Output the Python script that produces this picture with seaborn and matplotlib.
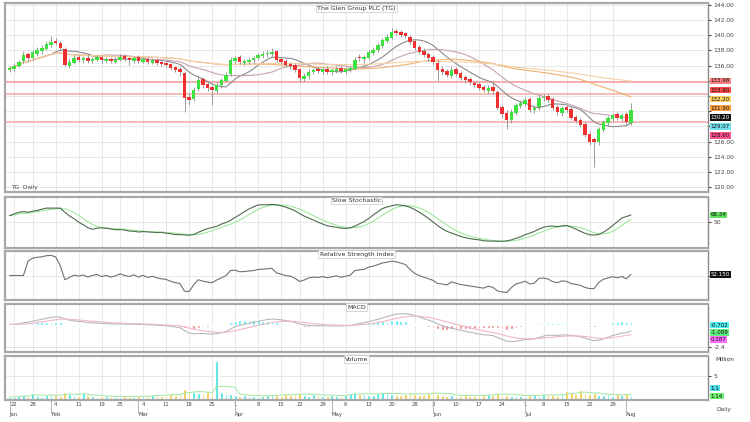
import numpy as np
import pandas as pd
import seaborn as sns
import matplotlib
matplotlib.use("Agg")
import matplotlib.pyplot as plt

sns.set_style("white")
plt.rcParams['font.family'] = ['DejaVu Sans']

title = "The Glen Group PLC (TG)"
holidays = ["2019-01-21", "2019-02-18", "2019-04-19", "2019-05-27", "2019-07-04"]

opens = [135.4, 135.6, 136.0, 136.6, 137.5, 137.0, 137.6, 137.9, 138.2, 138.7,
         139.3, 139.0, 138.2, 136.0, 136.4, 137.1, 136.7, 137.0, 136.6, 136.8,
         137.1, 136.6, 136.9, 136.5, 136.8, 137.3, 137.0, 136.6, 137.1, 136.5,
         136.9, 136.4, 136.8, 136.5, 136.3, 136.2, 135.8, 135.5, 135.0, 131.9,
         131.6, 132.9, 134.2, 133.6, 133.2, 132.7, 133.4, 134.0, 134.9, 136.6,
         137.1, 136.4, 136.5, 136.7, 137.0, 137.3, 137.5, 137.6, 137.9, 136.9,
         136.6, 136.2, 136.1, 135.5, 134.3, 134.6, 135.1, 135.5, 135.2, 135.6,
         135.1, 135.3, 135.7, 135.2, 135.4, 135.6, 137.2, 136.9, 137.0, 137.7,
         138.0, 138.6, 139.3, 139.7, 140.6, 140.4, 140.3, 139.8, 139.2, 138.4,
         137.9, 137.5, 137.1, 136.4, 135.6, 135.3, 134.7, 135.5, 135.0, 134.5,
         134.2, 133.7, 133.6, 133.2, 132.7, 133.2, 132.5, 130.5, 129.8, 128.8,
         129.8, 130.7, 131.0, 131.6, 130.1, 130.5, 131.7, 132.0, 131.6, 130.5,
         129.8, 130.5, 130.3, 129.2, 128.8, 128.3, 127.0, 126.3, 125.9, 127.5,
         128.5, 129.0, 129.6, 129.0, 129.6, 128.5]
closes = [135.7, 136.0, 136.5, 137.4, 137.0, 137.8, 138.1, 138.3, 138.9, 139.1,
          139.0, 138.3, 136.1, 136.5, 137.0, 136.8, 137.0, 136.6, 136.9, 137.1,
          136.7, 136.9, 136.6, 136.8, 137.2, 136.9, 136.7, 137.0, 136.6, 136.9,
          136.5, 136.7, 136.4, 136.2, 136.1, 135.7, 135.4, 135.2, 131.8, 131.5,
          132.8, 134.1, 133.5, 133.1, 132.8, 133.5, 134.1, 134.8, 136.8, 137.0,
          136.5, 136.6, 136.8, 137.0, 137.4, 137.5, 137.7, 137.8, 136.8, 136.5,
          136.1, 136.0, 135.4, 134.4, 134.7, 135.2, 135.4, 135.3, 135.5, 135.2,
          135.4, 135.6, 135.3, 135.5, 135.7, 136.8, 137.0, 137.1, 137.8, 138.1,
          138.7, 139.4, 139.8, 140.4, 140.3, 140.1, 139.9, 139.1, 138.3, 137.8,
          137.4, 137.0, 136.5, 135.4, 135.2, 134.8, 135.4, 134.9, 134.4, 134.1,
          133.8, 133.5, 133.1, 132.8, 133.1, 132.6, 130.4, 129.6, 128.9, 129.9,
          130.8, 131.1, 131.5, 130.2, 130.4, 131.8, 131.9, 131.5, 130.4, 129.9,
          130.4, 130.2, 129.1, 128.7, 128.2, 126.9, 126.0, 126.0, 127.6, 128.6,
          129.1, 129.5, 129.1, 129.5, 128.6, 130.2]
highs = [136.0, 136.3, 136.8, 137.9, 137.8, 138.1, 138.4, 138.7, 139.2, 139.9,
         139.6, 139.2, 138.4, 136.9, 137.4, 137.4, 137.3, 137.6, 137.2, 137.4,
         137.3, 137.2, 137.1, 137.1, 137.6, 137.5, 137.2, 137.3, 137.4, 137.2,
         137.1, 137.0, 137.0, 136.8, 136.6, 136.4, 136.0, 135.8, 135.3, 132.4,
         133.2, 134.6, 134.5, 133.9, 133.5, 133.8, 134.4, 135.2, 137.1, 137.3,
         137.4, 136.9, 137.1, 137.3, 137.7, 137.9, 138.0, 138.3, 138.1, 137.2,
         136.9, 136.5, 136.3, 135.7, 135.0, 135.5, 135.7, 135.8, 135.8, 135.9,
         135.7, 135.9, 136.0, 135.8, 136.0, 137.1, 137.5, 137.4, 138.1, 138.4,
         139.0, 139.7, 140.2, 141.0, 140.9, 140.7, 140.5, 140.0, 139.4, 138.7,
         138.3, 137.8, 137.4, 136.7, 135.9, 135.6, 135.9, 135.8, 135.3, 134.8,
         134.5, 134.0, 133.9, 133.5, 133.5, 133.9, 132.8, 130.8, 130.1, 130.3,
         131.1, 131.5, 131.9, 131.9, 130.8, 132.1, 132.2, 132.3, 131.9, 130.8,
         130.7, 130.8, 130.6, 129.5, 129.1, 128.6, 127.3, 126.6, 127.9, 128.9,
         129.4, 129.8, 129.9, 129.8, 129.9, 131.1]
lows = [135.1, 135.3, 135.8, 136.4, 136.6, 136.8, 137.3, 137.6, 138.0, 138.5,
        138.7, 138.0, 135.9, 135.7, 136.2, 136.5, 136.4, 136.3, 136.4, 136.6,
        136.4, 136.3, 136.3, 136.3, 136.6, 136.6, 136.1, 136.4, 136.3, 136.3,
        136.2, 136.2, 136.1, 135.9, 135.8, 135.4, 135.1, 134.6, 129.9, 130.8,
        131.3, 132.6, 133.1, 132.7, 130.8, 132.4, 133.1, 133.8, 134.7, 136.3,
        136.2, 136.1, 136.2, 136.4, 136.8, 137.0, 137.2, 137.3, 136.5, 136.2,
        135.8, 135.6, 135.1, 133.8, 134.0, 134.3, 134.9, 135.0, 134.9, 134.9,
        134.8, 135.0, 135.0, 134.9, 135.1, 135.4, 136.6, 136.4, 136.8, 137.4,
        137.8, 138.3, 139.0, 139.5, 140.0, 139.8, 139.6, 138.8, 138.0, 137.5,
        137.1, 136.6, 136.1, 134.0, 134.8, 134.5, 134.4, 134.6, 134.1, 133.7,
        133.5, 133.2, 132.8, 132.5, 132.4, 132.3, 130.1, 129.2, 127.6, 128.5,
        129.5, 130.4, 130.7, 129.9, 129.8, 130.2, 131.4, 131.2, 130.1, 129.5,
        129.4, 129.9, 128.8, 128.4, 127.9, 126.6, 125.6, 122.6, 125.6, 127.2,
        128.2, 128.7, 128.8, 128.7, 128.3, 128.2]
volume = [0.6, 0.7, 0.9, 1.1, 0.8, 1.4, 0.9, 0.7, 1.0, 1.2,
          1.0, 0.9, 1.6, 1.3, 1.1, 0.9, 1.5, 1.0, 0.8, 0.7,
          0.9, 0.8, 0.6, 0.7, 0.6, 0.8, 0.7, 0.6, 0.9, 0.8,
          0.7, 1.0, 1.3, 0.9, 1.1, 1.2, 1.0, 1.4, 2.2, 1.9,
          1.6, 1.5, 1.3, 1.7, 1.4, 8.0, 1.6, 1.2, 1.3, 1.0,
          0.9, 1.1, 0.8, 0.9, 0.7, 0.8, 1.0, 1.2, 1.1, 0.9,
          1.3, 1.0, 1.2, 1.5, 1.1, 0.9, 1.3, 1.0, 0.8, 0.9,
          1.1, 0.8, 0.9, 1.0, 1.4, 1.6, 1.3, 1.2, 1.0, 1.1,
          1.5, 1.7, 1.4, 1.2, 1.0, 1.1, 1.3, 1.6, 1.2, 1.0,
          1.1, 1.4, 2.1, 1.3, 1.0, 0.9, 1.1, 0.8, 0.9, 1.0,
          0.9, 0.8, 1.0, 1.1, 1.2, 1.0, 1.5, 1.3, 1.1, 0.9,
          1.0, 0.8, 0.9, 1.1, 1.0, 0.9, 1.2, 1.0, 1.1, 0.8,
          1.3, 1.9, 1.6, 1.2, 2.0, 1.4, 1.2, 1.5, 1.1, 1.0,
          1.2, 0.9, 1.3, 1.0, 1.4, 1.1]
levels = [133.9, 132.2, 128.6]
price_ticks = [120, 122, 124, 126, 128, 130, 132, 134, 136, 138, 140, 142, 144]

dates = pd.bdate_range("2019-01-18", periods=len(closes), freq="C", holidays=holidays)
df = pd.DataFrame({"date": dates, "open": opens, "high": highs, "low": lows,
                   "close": closes, "volume": volume})
df["i"] = np.arange(len(df))
df["up"] = df["close"] >= df["open"]

# indicators
for n in [10, 20, 50, 100]:
    df[f"ma{n}"] = df["close"].rolling(n, min_periods=1).mean()
ll = df["low"].rolling(21, min_periods=1).min()
hh = df["high"].rolling(21, min_periods=1).max()
k = 100 * (df["close"] - ll) / (hh - ll)
df["slow_k"] = k.rolling(7, min_periods=1).mean()
df["slow_d"] = df["slow_k"].rolling(5, min_periods=1).mean()
delta = df["close"].diff().fillna(0)
gain = delta.clip(lower=0).ewm(alpha=1 / 14, adjust=False).mean()
loss = (-delta.clip(upper=0)).ewm(alpha=1 / 14, adjust=False).mean()
df["rsi"] = 100 - 100 / (1 + gain / loss.replace(0, np.nan))
df["rsi"] = df["rsi"].fillna(50)
ema12 = df["close"].ewm(span=12, adjust=False).mean()
ema26 = df["close"].ewm(span=26, adjust=False).mean()
df["macd"] = ema12 - ema26
df["signal"] = df["macd"].ewm(span=9, adjust=False).mean()
df["hist"] = df["macd"] - df["signal"]
df["vol_ma"] = df["volume"].rolling(5, min_periods=1).mean()

# date ticks: first trading day of each week (after the first), first day of each month
week_idx = [i for i in range(1, len(df)) if df["date"][i].dayofweek < df["date"][i - 1].dayofweek]
month_idx = [i for i in range(len(df)) if i == 0 or df["date"][i].month != df["date"][i - 1].month]

fig = plt.figure(figsize=(7.5, 4.22), dpi=100)
L, W = 5 / 750, 703 / 750
def panel(top, bottom):
    return fig.add_axes([L, 1 - bottom / 422, W, (bottom - top) / 422])
ax_p = panel(3, 192)
ax_s = panel(197, 248)
ax_r = panel(251, 300)
ax_m = panel(304, 352)
ax_v = panel(356, 400)
axes = [ax_p, ax_s, ax_r, ax_m, ax_v]
xmax = (708 - 10) / 4.6

for ax in axes:
    ax.set_xlim(-1, xmax)
    ax.set_xticks(week_idx)
    ax.grid(True, color="#e4e4e4", lw=0.6)
    ax.set_axisbelow(True)
    ax.yaxis.tick_right()
    ax.tick_params(axis="y", labelsize=4.3, colors="#444444", length=2, pad=2)
    ax.tick_params(axis="x", length=0)
    for sp in ax.spines.values():
        sp.set_color("#a8a8a8")
        sp.set_linewidth(1.6)
    ax.spines["right"].set_color("#888888")
    ax.spines["right"].set_linewidth(1.0)
    if ax is not ax_v:
        ax.set_xticklabels([])

def tags(ax, items, gap):
    # stack value boxes on the right, keeping them apart
    items = sorted(items, key=lambda t: -t[0])
    prev = None
    for val, text, fc, tc in items:
        y = val if prev is None else min(val, prev - gap)
        prev = y
        ax.text(1.004, y, text, transform=ax.get_yaxis_transform(), ha="left", va="center",
                fontsize=4.0, color=tc, bbox=dict(boxstyle="square,pad=0.12", fc=fc, ec="none"))

def title_box(ax, text):
    ax.text(0.5, 0.985, text, transform=ax.transAxes, ha="center", va="top", fontsize=4.5,
            color="#333333", bbox=dict(boxstyle="square,pad=0.2", fc="white", ec="#c8c8c8", lw=0.5))

# price panel
ax_p.set_ylim(120 - 5 / 7.6, 144 + 2 / 7.6)
ax_p.set_yticks(price_ticks)
# the value boxes cover the middle tick labels
ax_p.set_yticklabels(["" if 127 < t < 135 else f"{t:.2f}" for t in price_ticks])
level_cols = ["#f7a8a8", "#f5b8b0", "#f7b4b4"]
for lv, c in zip(levels, level_cols):
    ax_p.axhline(lv, color=c, lw=1.3, zorder=1)
ma_cols = {"ma10": "#8a8a8a", "ma20": "#c7a3b0", "ma50": "#f0b070", "ma100": "#f6cfa6"}
for col, c in ma_cols.items():
    sns.lineplot(data=df, x="i", y=col, ax=ax_p, color=c, lw=0.8, zorder=2)
ax_p.vlines(df["i"], df["low"], df["high"], color="#8c8c8c", lw=0.6, zorder=3)
body_lo = df[["open", "close"]].min(axis=1)
body_h = (df["close"] - df["open"]).abs().clip(lower=0.08)
ax_p.bar(df["i"], body_h, bottom=body_lo, width=0.75, zorder=4,
         color=np.where(df["up"], "#3ee23e", "#ee3030"), edgecolor="none")
title_box(ax_p, title)
ax_p.text(0.008, 0.012, "TG  Daily", transform=ax_p.transAxes, fontsize=4.2, color="#444444",
          va="bottom")
last = df.iloc[-1]
tags(ax_p, [
    (levels[0], f"{levels[0]:.2f}", "#ff4a4a", "#111111"),
    (last["ma100"], f"{last['ma100']:.2f}", "#ff8080", "#111111"),
    (last["ma50"], f"{last['ma50']:.2f}", "#ffa040", "#111111"),
    (levels[1], f"{levels[1]:.2f}", "#ffd060", "#111111"),
    (last["close"], f"{last['close']:.2f}", "#111111", "white"),
    (last["ma20"], f"{last['ma20']:.2f}", "#70e0f0", "#111111"),
    (levels[2], f"{levels[2]:.2f}", "#ff5090", "#111111"),
], gap=1.2)

# slow stochastic
sns.lineplot(data=df, x="i", y="slow_d", ax=ax_s, color="#9ee89e", lw=0.8)
sns.lineplot(data=df, x="i", y="slow_k", ax=ax_s, color="#4d6b4d", lw=0.8)
ax_s.set_ylim(-12, 112)
ax_s.set_yticks([50])
title_box(ax_s, "Slow Stochastic")
tags(ax_s, [(last["slow_k"], f"{last['slow_k']:.2f}", "#5fe05f", "#111111")], gap=1)

# RSI
sns.lineplot(data=df, x="i", y="rsi", ax=ax_r, color="#707070", lw=0.8)
ax_r.set_ylim(0, 100)
ax_r.set_yticks([50])
ax_r.set_yticklabels([""])
title_box(ax_r, "Relative Strength Index")
tags(ax_r, [(last["rsi"], f"{last['rsi']:.3f}", "#111111", "white")], gap=1)

# MACD
ax_m.bar(df["i"], df["hist"], width=0.6, color=np.where(df["hist"] >= 0, "#50e8f0", "#f08080"))
sns.lineplot(data=df, x="i", y="macd", ax=ax_m, color="#b8b8b8", lw=0.8)
sns.lineplot(data=df, x="i", y="signal", ax=ax_m, color="#f0b8c8", lw=0.8)
mn = min(df["macd"].min(), df["signal"].min())
mx = max(df["macd"].max(), df["signal"].max())
ax_m.set_ylim(mn * 1.6, mx * 1.9)
mtick = round(mn * 1.3, 1)
ax_m.set_yticks([mtick])
ax_m.set_yticklabels([f"{mtick:.1f}"])
title_box(ax_m, "MACD")
span = mx * 1.9 - mn * 1.6
tags(ax_m, [
    (last["macd"] + span * 0.12, f"{last['macd']:.3f}", "#50f0f0", "#111111"),
    (last["macd"] + span * 0.11, f"{last['signal']:.3f}", "#60f080", "#111111"),
    (last["macd"] + span * 0.10, f"{last['hist']:.3f}", "#ff70ff", "#111111"),
], gap=span * 0.15)

# volume
colors_v = np.where(df["up"], "#40e0e0", "#f2c840")
ax_v.bar(df["i"], df["volume"], width=0.6, color=colors_v)
sns.lineplot(data=df, x="i", y="vol_ma", ax=ax_v, color="#a0e8a0", lw=0.7)
ax_v.set_ylim(0, 9)
ax_v.set_yticks([5])
title_box(ax_v, "Volume")
ax_v.text(1.01, 0.98, "Million", transform=ax_v.transAxes, fontsize=4.2, color="#333333", va="top")
tags(ax_v, [
    (last["volume"] + 1.3, f"{last['volume']:.1f}", "#50e0f0", "#111111"),
    (last["vol_ma"], f"{last['vol_ma']:.2f}", "#70f070", "#111111"),
], gap=1.6)
ax_v.set_xticklabels([str(df["date"][i].day) for i in week_idx], fontsize=3.8, color="#444444")
ax_v.tick_params(axis="x", pad=1.5)
for i in month_idx:
    ax_v.text(i, -0.36, df["date"][i].strftime("%b"), transform=ax_v.get_xaxis_transform(),
              fontsize=3.8, color="#444444", ha="left")
    ax_v.axvline(i, ymin=-0.3, ymax=0, color="#aaaaaa", lw=0.6, clip_on=False)
fig.text(0.975, 0.025, "Daily", fontsize=4.2, color="#444444", ha="right")

for ax in axes:
    ax.set_xlabel("")
    ax.set_ylabel("")

fig.savefig("out.png", dpi=100, facecolor="white")
